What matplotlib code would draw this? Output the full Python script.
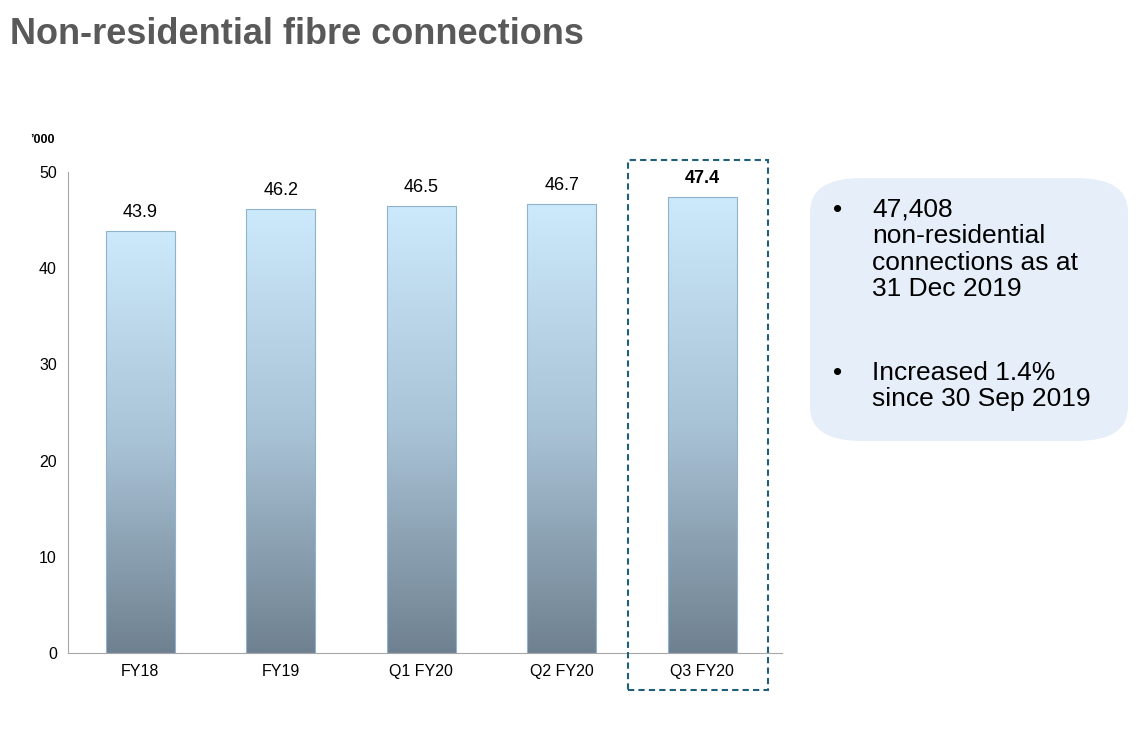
import numpy as np
import matplotlib.pyplot as plt
from matplotlib.patches import Rectangle, FancyBboxPatch
from matplotlib.colors import LinearSegmentedColormap

plt.rcParams['font.family'] = ['Liberation Sans', 'DejaVu Sans']

categories = ['FY18', 'FY19', 'Q1 FY20', 'Q2 FY20', 'Q3 FY20']
values = [43.9, 46.2, 46.5, 46.7, 47.4]
labels = ['43.9', '46.2', '46.5', '46.7', '47.4']

fig = plt.figure(figsize=(11.43, 7.51), dpi=100)
ax = fig.add_axes([0.0595, 0.1305, 0.625, 0.6405])

# gradient fill for bars
grad = np.linspace(0, 1, 256).reshape(-1, 1)
cmap = LinearSegmentedColormap.from_list('g', ['#6f8190', '#a9c3d6', '#cde9fc'])
width = 0.49
for i, v in enumerate(values):
    bar = ax.bar(i, v, width=width, color='none', edgecolor='#8fb3cc', linewidth=0.8, zorder=3)[0]
    im = ax.imshow(grad, extent=[i - width / 2, i + width / 2, 0, v], origin='lower',
                   cmap=cmap, aspect='auto', zorder=2)
    im.set_clip_path(bar)
    ax.text(i, v + 1, labels[i], ha='center', va='bottom', fontsize=13,
            fontweight='bold' if i == len(values) - 1 else 'normal')

ax.set_xlim(-0.515, 4.57)
ax.set_ylim(0, 50)
ax.set_yticks(range(0, 51, 10))
ax.set_xticks(range(len(categories)))
ax.set_xticklabels(categories)
ax.tick_params(length=0, labelsize=11.5, pad=8)
for s in ['top', 'right']:
    ax.spines[s].set_visible(False)
for s in ['left', 'bottom']:
    ax.spines[s].set_color('#a6a6a6')
fig.text(30 / 1143, 1 - 140 / 751, '\u2019000', fontsize=9, fontweight='bold', va='center')

# dashed highlight box
fig.patches.append(Rectangle((628 / 1143, 1 - 690 / 751), 140 / 1143, 530 / 751,
                             transform=fig.transFigure, fill=False, edgecolor='#1f5f7a',
                             linestyle=(0, (3, 2)), linewidth=1.5))

# callout box
fig.patches.append(FancyBboxPatch((810 / 1143, 1 - 441 / 751), 318 / 1143, 263 / 751,
                                  boxstyle='round,pad=0.0,rounding_size=0.045',
                                  transform=fig.transFigure, facecolor='#e6eff9',
                                  edgecolor='none'))
fs = 19
fig.text(833 / 1143, 1 - 198 / 751, '\u2022', fontsize=fs, va='top')
fig.text(872 / 1143, 1 - 198 / 751, '47,408\nnon-residential\nconnections as at\n31 Dec 2019',
         fontsize=fs, va='top', linespacing=1.12)
fig.text(833 / 1143, 1 - 361 / 751, '\u2022', fontsize=fs, va='top')
fig.text(872 / 1143, 1 - 361 / 751, 'Increased 1.4%\nsince 30 Sep 2019',
         fontsize=fs, va='top', linespacing=1.12)

fig.text(10 / 1143, 1 - 35 / 751, 'Non-residential fibre connections', fontsize=26,
         fontweight='bold', color='#595959', va='center')

fig.savefig('out.png', dpi=100)
